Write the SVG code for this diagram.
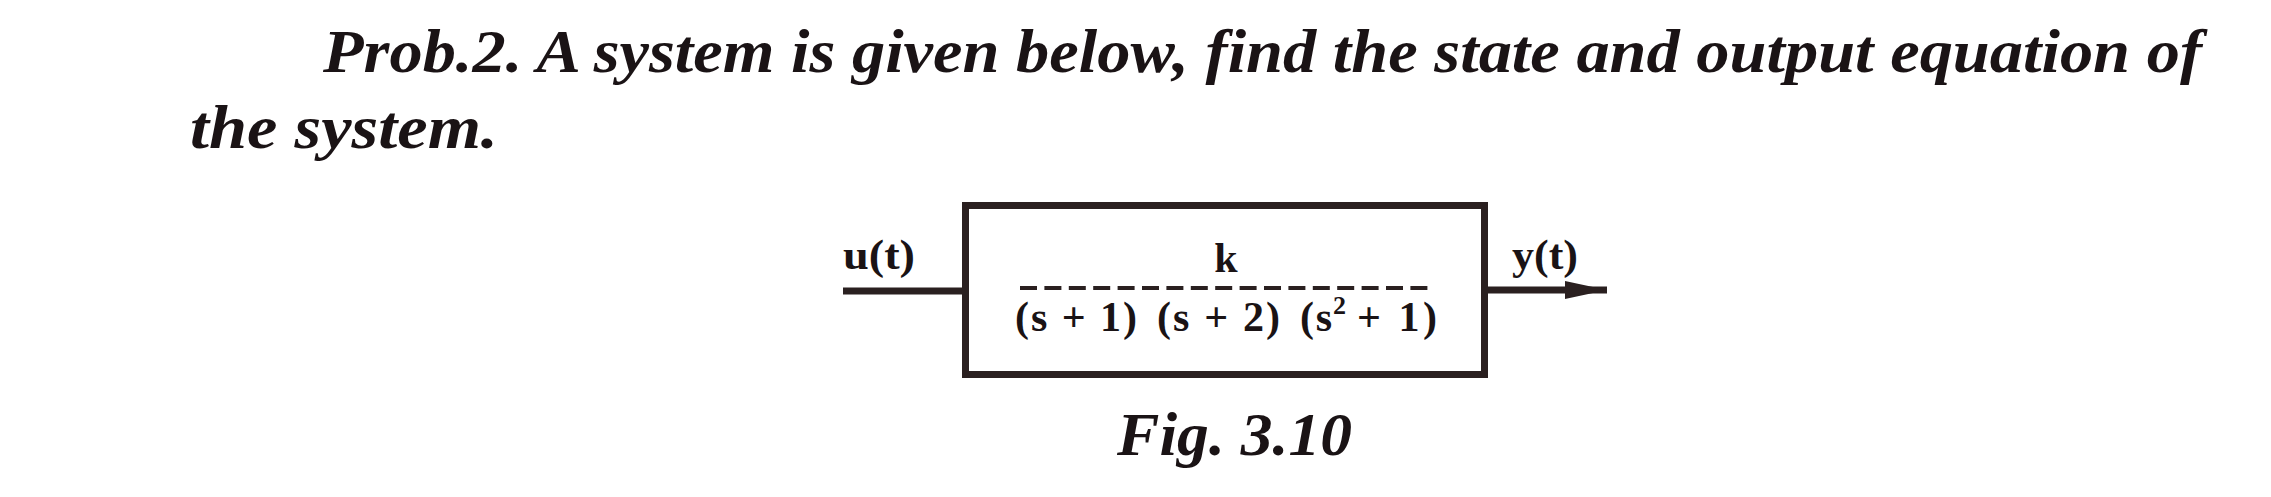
<svg xmlns="http://www.w3.org/2000/svg" width="2271" height="497" viewBox="0 0 2271 497">
<style>
.title{font-family:"Liberation Serif","Times New Roman",serif;font-weight:bold;font-style:italic;font-size:62px;fill:#1a1315;}
.lbl{font-family:"Liberation Serif","Times New Roman",serif;font-weight:bold;font-size:42px;fill:#1a1315;}
.math{font-family:"Liberation Serif","Times New Roman",serif;font-weight:bold;font-size:42px;fill:#1a1315;}
.sup{font-family:"Liberation Serif","Times New Roman",serif;font-weight:bold;font-size:26px;fill:#1a1315;}
.cap{font-family:"Liberation Serif","Times New Roman",serif;font-weight:bold;font-style:italic;font-size:62px;fill:#1a1315;}
.wire{stroke:#2a2020;stroke-width:7;fill:none;}
</style>
<defs>
<marker id="arrow" markerUnits="userSpaceOnUse" markerWidth="44" markerHeight="20" refX="42" refY="10" orient="auto">
<polygon points="0,1 42,10 0,19" fill="#2a2020"/>
</marker>
</defs>
<rect width="2271" height="497" fill="#ffffff"/>
<g id="title">
<text class="title" x="323" y="72" textLength="1879" lengthAdjust="spacingAndGlyphs">Prob.2. A system is given below, find the state and output equation of</text>
<text class="title" x="190" y="148" textLength="308" lengthAdjust="spacingAndGlyphs">the system.</text>
</g>
<g id="connectors">
<line class="wire" x1="843" y1="291" x2="962" y2="291"/>
<line class="wire" x1="1488" y1="290" x2="1607" y2="290" stroke-width="6" marker-end="url(#arrow)"/>
</g>
<g id="input-label">
<text class="lbl" x="843" y="269" textLength="72" lengthAdjust="spacingAndGlyphs">u(t)</text>
</g>
<g id="output-label">
<text class="lbl" x="1512" y="269" textLength="66" lengthAdjust="spacingAndGlyphs">y(t)</text>
</g>
<g id="block">
<rect x="965.5" y="205.5" width="519" height="169" fill="none" stroke="#2a2020" stroke-width="7"/>
<text class="math" x="1226" y="272" text-anchor="middle">k</text>
<line x1="1020" y1="288" x2="1428" y2="288" stroke="#2a2020" stroke-width="4" stroke-dasharray="17 7.4"/>
<text class="math" x="1015" y="331" textLength="122" lengthAdjust="spacing">(s + 1)</text>
<text class="math" x="1157" y="331" textLength="123" lengthAdjust="spacing">(s + 2)</text>
<text class="math" x="1300" y="331" textLength="32" lengthAdjust="spacing">(s</text>
<text class="sup" x="1333" y="314">2</text>
<text class="math" x="1357" y="331" textLength="80" lengthAdjust="spacing">+ 1)</text>
</g>
<g id="caption">
<text class="cap" x="1117" y="455" textLength="235" lengthAdjust="spacingAndGlyphs">Fig. 3.10</text>
</g>
</svg>
